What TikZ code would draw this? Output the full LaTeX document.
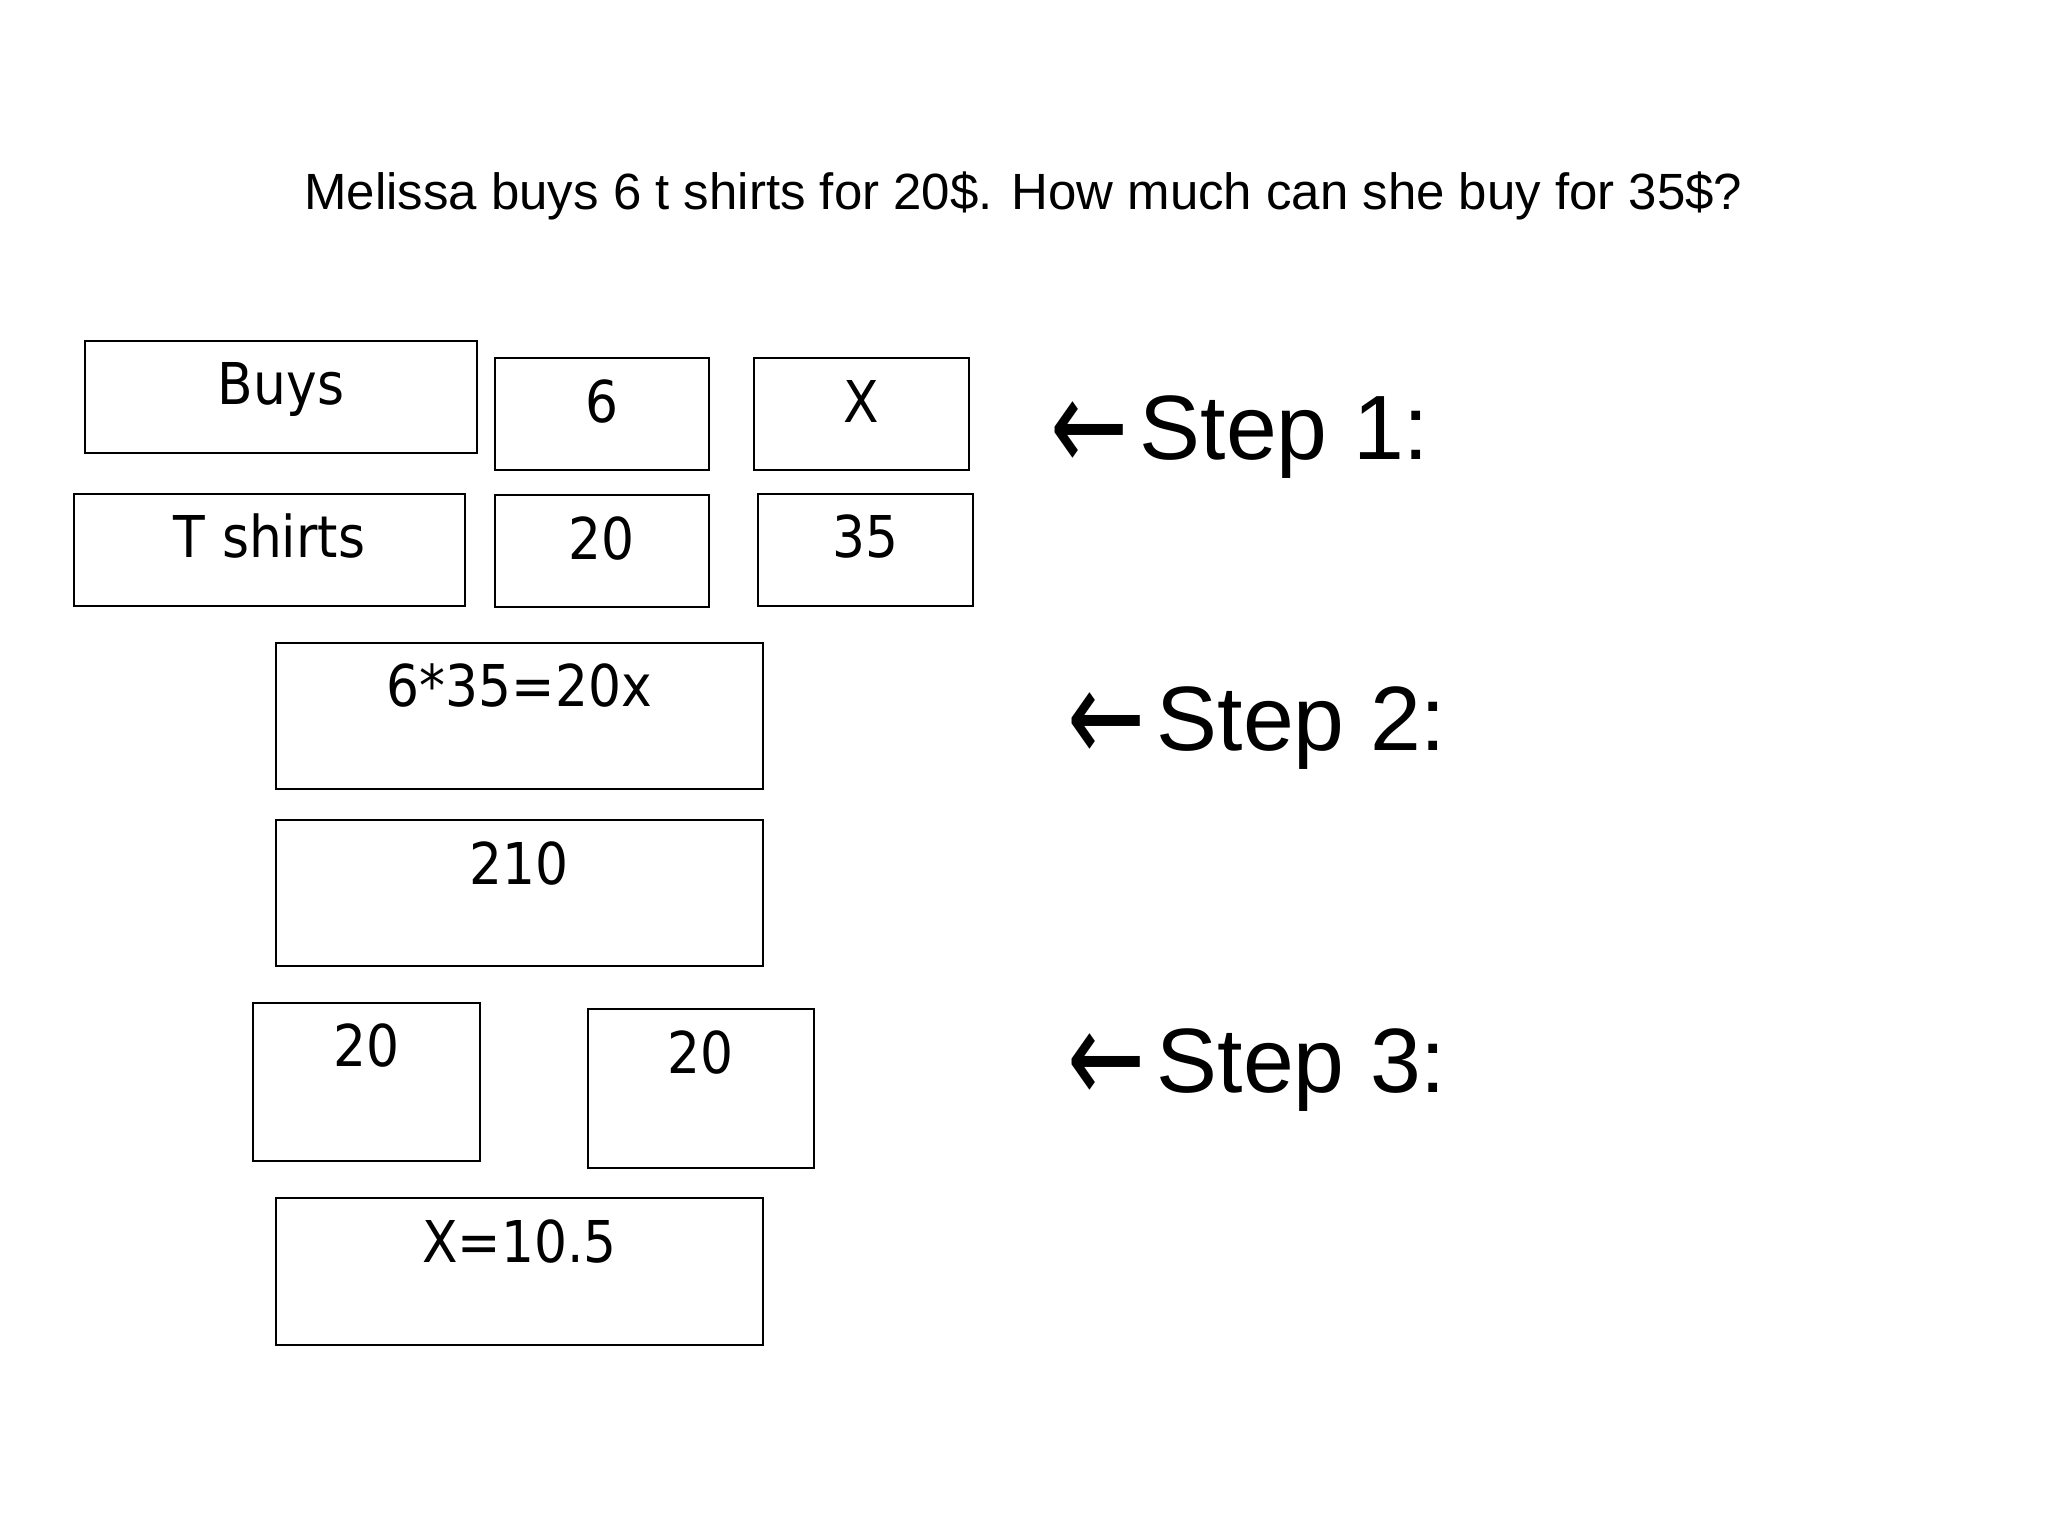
\documentclass[tikz,border=0pt]{standalone}
\usepackage{fontspec}
\setmainfont{Liberation Sans}
\newfontfamily\boxfont[FakeStretch=0.9]{DejaVu Sans}
\newfontfamily\arrowfont{DejaVu Sans}
\newcommand{\backarrow}{\raisebox{-0.13em}{\scalebox{1.02}[1.45]{\arrowfont ←}}\hspace{0.11cm}}
\usetikzlibrary{positioning}

\begin{document}
\begin{tikzpicture}[
        box/.style={draw, line width=0.7pt, inner sep=0pt, outer sep=0pt, anchor=north,
            text height=0.64cm, font=\boxfont\fontsize{16.4}{18}\selectfont},
        steplabel/.style={anchor=base west, inner sep=0pt, font=\fontsize{26}{30}\selectfont}
    ]
        \useasboundingbox (0,0) rectangle (20.48,-15.36);

        \node[anchor=base, inner sep=0pt, font=\fontsize{14.5}{17}\selectfont](question) at (10.235,-2.10)
            {Melissa buys 6 t shirts for 20\$. How much can she buy for 35\$?};

        % step 1
        \node[box, minimum width=3.92cm, text depth=0.48cm](buys) at (2.81,-3.41){Buys};
        \node[box, minimum width=2.14cm, text depth=0.48cm](six) at (6.02,-3.58){6};
        \node[box, minimum width=2.15cm, text depth=0.48cm](ex) at (8.615,-3.58){X};
        \node[box, minimum width=3.91cm, text depth=0.48cm](tshirts) at (2.695,-4.94){T shirts};
        \node[box, minimum width=2.14cm, text depth=0.48cm](twenty) at (6.02,-4.95){20};
        \node[box, minimum width=2.15cm, text depth=0.48cm](thirtyfive) at (8.655,-4.94){35};

        % step 2
        \node[box, minimum width=4.87cm, text depth=0.82cm](cross) at (5.195,-6.43){6*35=20x};
        \node[box, minimum width=4.87cm, text depth=0.82cm](product) at (5.195,-8.20){210};

        % step 3
        \node[box, minimum width=2.27cm, text depth=0.94cm](divleft) at (3.665,-10.03){20};
        \node[box, minimum width=2.26cm, text depth=0.95cm](divright) at (7.01,-10.09){20};
        \node[box, minimum width=4.87cm, text depth=0.83cm](answer) at (5.195,-11.98){X=10.5};

        \node[steplabel](stepone) at (10.50,-4.60){\backarrow Step 1:};
        \node[steplabel](steptwo) at (10.67,-7.51){\backarrow Step 2:};
        \node[steplabel](stepthree) at (10.67,-10.92){\backarrow Step 3:};
    \end{tikzpicture}
\end{document}
